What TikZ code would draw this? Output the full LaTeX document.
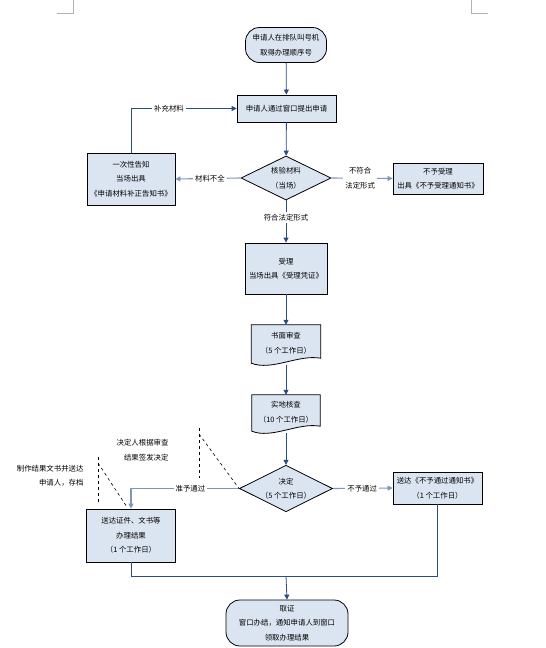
\documentclass[tikz,border=0pt]{standalone}
\usepackage{fontspec}
\setmainfont{Noto Sans CJK SC}
\usetikzlibrary{calc,positioning,shapes.geometric,shapes.misc,arrows.meta}
\definecolor{boxfill}{HTML}{DBE5F1}
\definecolor{flow}{HTML}{2B4C7E}
\definecolor{flowlight}{HTML}{7F96B8}
\tikzset{
	>={Triangle[width=5pt,length=5pt]},
	every node/.style={font=\fontsize{7.4}{14.5}\selectfont, align=center},
	box/.style={draw, fill=boxfill, line width=0.8pt, inner sep=1pt},
	term/.style={box, rounded corners=14pt},
	check/.style={box, diamond, aspect=2, inner sep=0pt},
	doc/.style={inner sep=1pt},
	flowline/.style={draw=flow, line width=0.8pt},
	sideline/.style={draw=flowlight, line width=1.1pt},
	lbl/.style={fill=white, inner sep=2pt},
	callout/.style={dashed, line width=0.6pt},
}
\begin{document}
\begin{tikzpicture}[x=1pt,y=-1pt]
	\useasboundingbox (0,0) rectangle (546,648);
	\draw[gray!60, line width=0.6pt] (57,13) -- (73,13) -- (73,0);
	\draw[gray!60, line width=0.6pt] (471,0) -- (471,13) -- (488,13);
	\node[term, minimum width=81pt, minimum height=35pt] at (286,45) (start) {申请人在排队叫号机\\取得办理顺序号};
	\node[box, minimum width=99pt, minimum height=27pt] at (286.5,108.5) (apply) {申请人通过窗口提出申请};
	\node[check, minimum width=90pt, minimum height=44pt] at (286,178) (chk) {核验材料\\（当场）};
	\node[box, minimum width=88pt, minimum height=52pt] at (131,179) (notice) {一次性告知\\当场出具\\《申请材料补正告知书》};
	\node[box, minimum width=90pt, minimum height=31pt] at (438,178.5) (reject) {不予受理\\出具《不予受理通知书》};
	\node[box, minimum width=82pt, minimum height=51pt] at (286,268.5) (accept) {受理\\当场出具《受理凭证》};
	\node[doc, minimum width=69pt, minimum height=36pt] at (286,343) (review) {};
	\node[doc, minimum width=68pt, minimum height=34pt] at (286,412) (site) {};
	\foreach \d in {review,site}{
		\draw[box] (\d.south west) -- (\d.north west) -- (\d.north east) -- ($(\d.south east)+(0,-3)$)
			.. controls ($(\d.south)+(12,-7)$) and ($(\d.south)+(-14,10)$) .. ($(\d.south west)+(0,2)$) -- cycle;
	}
	\node at (review.center) {书面审查\\（5 个工作日）};
	\node at (site.center) {实地核查\\（10 个工作日）};
	\node[check, minimum width=88pt, minimum height=45pt] at (286,488.5) (decide) {决定\\（5 个工作日）};
	\node[box, minimum width=89pt, minimum height=32pt] at (437.5,488) (refuse) {送达《不予通过通知书》\\（1 个工作日）};
	\node[box, minimum width=89pt, minimum height=53pt] at (131,535.5) (deliver) {送达证件、文书等\\办理结果\\（1 个工作日）};
	\node[term, minimum width=122pt, minimum height=46pt] at (287,623) (finish) {取证\\窗口办结，通知申请人到窗口\\领取办理结果};
	\draw[flowline, ->] (start) -- (apply);
	\draw[flowline, ->] (apply) -- (chk);
	\draw[sideline, ->] (chk.west) -- node[lbl, pos=0.47] {材料不全} (notice.east);
	\draw[flowline, ->] (notice.north) |- node[lbl, pos=0.68] {补充材料} (apply.west);
	\draw[sideline, ->] (chk.east) -- node[lbl, pos=0.47] {不符合\\法定形式} (reject.west);
	\draw[flowline, ->] (chk.south) -- node[lbl, pos=0.4] {符合法定形式} (accept.north);
	\draw[flowline, ->] (accept) -- (review);
	\draw[flowline, ->] ($(review.south)+(0,4)$) -- (site.north);
	\draw[flowline, ->] ($(site.south)+(0,4)$) -- (decide.north);
	\draw[sideline, ->] (decide.west) -| node[lbl, pos=0.225] {准予通过} (deliver.north);
	\draw[sideline, ->] (decide.east) -- node[lbl, pos=0.49] {不予通过} (refuse.west);
	\coordinate (merge) at (286,576);
	\draw[flowline] (deliver.south) |- (merge);
	\draw[flowline] (refuse.south) |- (merge);
	\draw[flowline, ->] (merge) -- (finish.north);
	\node[anchor=east, align=right] at (172,450) (note1) {决定人根据审查\\结果签发决定};
	\coordinate (n1t) at (199,428);
	\coordinate (n1b) at (199,478);
	\coordinate (n1d) at (199,434);
	\draw[callout] (n1t) -- (n1b);
	\draw[callout] (n1d) -- (decide.west);
	\node[anchor=east, align=right] at (87,476) (note2) {制作结果文书并送达\\申请人，存档};
	\coordinate (n2t) at (98,457);
	\coordinate (n2b) at (98,502);
	\coordinate (n2d) at (98,463);
	\coordinate (n2e) at (127,507);
	\draw[callout] (n2t) -- (n2b);
	\draw[callout] (n2d) -- (n2e);
\end{tikzpicture}
\end{document}
